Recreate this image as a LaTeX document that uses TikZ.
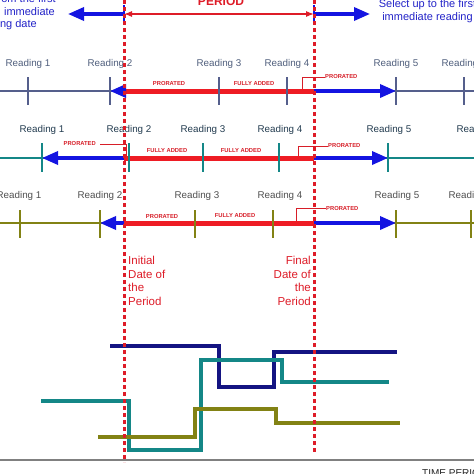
\documentclass[tikz,border=0pt]{standalone}
\usepackage{fontspec}
\setmainfont{Liberation Sans}
\usetikzlibrary{arrows.meta}
\definecolor{dotred}{RGB}{222,28,40}
\definecolor{barred}{RGB}{238,28,36}
\definecolor{tagred}{RGB}{215,30,40}
\definecolor{arrblue}{RGB}{20,20,225}
\definecolor{txtblue}{RGB}{35,35,200}
\definecolor{slate}{RGB}{85,95,140}
\definecolor{tealc}{RGB}{20,135,135}
\definecolor{olivec}{RGB}{130,130,20}
\definecolor{navyc}{RGB}{20,20,130}
\definecolor{lab1}{RGB}{80,95,125}
\definecolor{lab2}{RGB}{35,60,80}
\definecolor{lab3}{RGB}{80,80,80}
\begin{document}
\begin{tikzpicture}[x=1pt,y=-1pt,
  rdg/.style={font=\fontsize{9.8}{11}\selectfont, inner sep=0},
  tag/.style={font=\fontsize{5.8}{6}\selectfont\bfseries, text=tagred, inner sep=0},
  bracket/.style={draw=tagred, line width=0.8pt},
  thickred/.style={draw=barred, line width=5pt},
  bluearrow/.style={draw=arrblue, line width=3.4pt, -{Triangle[length=16pt,width=13pt]}},
  periodline/.style={draw=dotred, line width=3pt, dash pattern=on 4pt off 3pt},
  tickmark/.style={line width=2.2pt},
  stepline/.style={line width=3.4pt, line join=miter},
  bluetxt/.style={font=\fontsize{11}{13}\selectfont, text=txtblue, inner sep=0},
  redtxt/.style={font=\fontsize{11.5}{13.5}\selectfont, text=dotred, inner sep=0}]
\useasboundingbox (0,0) rectangle (474,474);
\clip (0,0) rectangle (474,474);
\fill[white] (0,0) rectangle (474,474);

% ---------- top ----------
\node[font=\fontsize{12}{14}\selectfont\bfseries, text=dotred, inner sep=0] (per) at (221,1.5) {PERIOD};
\coordinate (ts) at (124,14);
\coordinate (te) at (314,14);
\coordinate (tl) at (68,14);
\coordinate (tr) at (370,14);
\draw[dotred, line width=1.1pt, {Latex[length=8pt,width=6pt]}-{Latex[length=8pt,width=6pt]}] (ts) -- (te);
\draw[bluearrow] (ts) -- (tl);
\draw[bluearrow] (te) -- (tr);
\draw[arrblue, line width=2.2pt] (124,5) -- (124,23);
\draw[arrblue, line width=2.2pt] (314,5) -- (314,23);
\node[bluetxt, anchor=east] (l1) at (56,-1.5) {Select down from the first};
\node[bluetxt, anchor=east] (l2) at (55,12) {immediate};
\node[bluetxt, anchor=east] (l3) at (37,25) {reading date};
\node[bluetxt, align=center] (rt) at (427.5,11) {Select up to the first\\immediate reading};

% ---------- row 1 ----------
\draw[slate, line width=2pt] (0,91) -- (474,91);
\coordinate (a0) at (124,91);
\coordinate (a1) at (314,91);
\coordinate (a2) at (110,91);
\coordinate (a3) at (396,91);
\draw[thickred] (a0) -- (a1);
\draw[bluearrow] (a0) -- (a2);
\draw[bluearrow] (a1) -- (a3);
\foreach \x in {28,110,219,287,396,464} \draw[slate, tickmark] (\x,77) -- (\x,105);
\foreach \x/\n in {28/1,110/2,219/3,287/4,396/5,464/6}
  \node[rdg, text=lab1] (ra\n) at (\x,64) {Reading \n};
\node[tag] (ta1) at (169,83.5) {PRORATED};
\node[tag] (ta2) at (254,83.5) {FULLY ADDED};
\node[tag, anchor=west] (ta3) at (325,77) {PRORATED};
\draw[bracket] (302,89) -- (302,77) -- (ta3.west);

% ---------- row 2 ----------
\draw[tealc, line width=2pt] (0,158) -- (474,158);
\coordinate (b0) at (124,158);
\coordinate (b1) at (314,158);
\coordinate (b2) at (42,158);
\coordinate (b3) at (388,158);
\draw[thickred] (b0) -- (b1);
\draw[bluearrow] (b0) -- (b2);
\draw[bluearrow] (b1) -- (b3);
\foreach \x in {42,129,203,279,388,479} \draw[tealc, tickmark] (\x,143) -- (\x,172);
\foreach \x/\n in {42/1,129/2,203/3,280/4,389/5,479/6}
  \node[rdg, text=lab2] (rb\n) at (\x,130) {Reading \n};
\node[tag, anchor=east] (tb1) at (96,144) {PRORATED};
\draw[bracket] (tb1.east) ++(4,0) -- (126,144) -- (126,156);
\node[tag] (tb2) at (167,150.5) {FULLY ADDED};
\node[tag] (tb3) at (241,150.5) {FULLY ADDED};
\node[tag, anchor=west] (tb4) at (328,146) {PRORATED};
\draw[bracket] (298,156) -- (298,146) -- (tb4.west);

% ---------- row 3 ----------
\draw[olivec, line width=2pt] (0,223) -- (474,223);
\coordinate (c0) at (124,223);
\coordinate (c1) at (314,223);
\coordinate (c2) at (100,223);
\coordinate (c3) at (396,223);
\draw[thickred] (c0) -- (c1);
\draw[bluearrow] (c0) -- (c2);
\draw[bluearrow] (c1) -- (c3);
\foreach \x in {20,100,195,273,396,471} \draw[olivec, tickmark] (\x,210) -- (\x,238);
\foreach \x/\n in {19/1,100/2,197/3,280/4,397/5,471/6}
  \node[rdg, text=lab3] (rc\n) at (\x,196) {Reading \n};
\node[tag] (tc1) at (162,216) {PRORATED};
\node[tag] (tc2) at (235,216) {FULLY ADDED};
\node[tag, anchor=west] (tc3) at (326,208) {PRORATED};
\draw[bracket] (296,221) -- (296,208) -- (tc3.west);

% ---------- period texts ----------
\node[redtxt, align=left, anchor=north west] (ini) at (128,256) {Initial\\Date of\\the\\Period};
\node[redtxt, align=right, anchor=north east] (fin) at (311,256) {Final\\Date of\\the\\Period};

% ---------- steps ----------
\draw[navyc, stepline] (110,346) -- (219,346) -- (219,387) -- (274,387) -- (274,352) -- (397,352);
\draw[tealc, stepline] (41,401) -- (129,401) -- (129,450) -- (201,450) -- (201,360) -- (282,360) -- (282,382) -- (389,382);
\draw[olivec, stepline] (98,437) -- (195,437) -- (195,409) -- (276,409) -- (276,423) -- (400,423);

% ---------- axis ----------
\draw[gray, line width=1.4pt] (0,460) -- (474,460);
\node[font=\fontsize{10}{12}\selectfont, text=black!85, anchor=base west, inner sep=0] (tp) at (422,476) {TIME PERIOD};

% ---------- period boundaries ----------
\coordinate (d1t) at (124,0);
\coordinate (d1b) at (124,462);
\coordinate (d2t) at (314,0);
\coordinate (d2b) at (314,452);
\draw[periodline] (d1t) -- (d1b);
\draw[periodline] (d2t) -- (d2b);
\end{tikzpicture}
\end{document}
